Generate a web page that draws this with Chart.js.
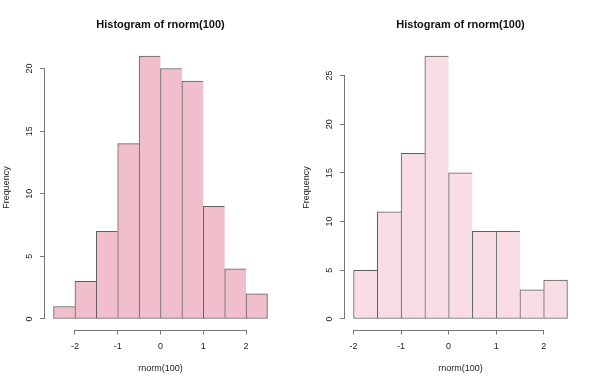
<!DOCTYPE html>
<html>
<head>
<meta charset="utf-8">
<script src="https://cdn.jsdelivr.net/npm/chart.js@4"></script>
<style>
  body { margin: 0; background: #fff; }
  .panel { position: absolute; top: 0; width: 300px; height: 386px; }
</style>
</head>
<body>
<div class="panel" style="left:0"><canvas id="left"></canvas></div>
<div class="panel" style="left:300px"><canvas id="right"></canvas></div>
<script>
// bin edges and counts
const leftBreaks = [-2.5, -2, -1.5, -1, -0.5, 0, 0.5, 1, 1.5, 2, 2.5];
const leftCounts = [1, 3, 7, 14, 21, 20, 19, 9, 4, 2];
const rightBreaks = [-2, -1.5, -1, -0.5, 0, 0.5, 1, 1.5, 2, 2.5];
const rightCounts = [5, 11, 17, 27, 15, 9, 9, 3, 4];
const xTicks = [-2, -1, 0, 1, 2];
const leftYTicks = [0, 5, 10, 15, 20];
const rightYTicks = [0, 5, 10, 15, 20, 25];

const FONT = 'Liberation Sans, Arial, Helvetica, sans-serif';

// R style axes: line only from first to last tick
const rAxes = {
  id: 'rAxes',
  afterDraw(chart) {
    const { ctx, chartArea, scales } = chart;
    const x = scales.x, y = scales.y;
    ctx.save();
    ctx.strokeStyle = '#777';
    ctx.lineWidth = 1;
    ctx.beginPath();
    const xb = Math.round(chartArea.bottom) + 0.5;
    ctx.moveTo(x.getPixelForValue(xTicks[0]), xb);
    ctx.lineTo(x.getPixelForValue(xTicks[xTicks.length - 1]), xb);
    const yl = Math.round(chartArea.left) - 0.5;
    const yt = y.ticks;
    ctx.moveTo(yl, y.getPixelForValue(yt[0].value));
    ctx.lineTo(yl, y.getPixelForValue(yt[yt.length - 1].value));
    ctx.stroke();
    ctx.restore();
  }
};

function makeHist(id, breaks, counts, yTicks, fill) {
  const lo = breaks[0], hi = breaks[breaks.length - 1];
  const ymax = Math.max(...counts);
  const points = counts.map((c, i) => ({ x: (breaks[i] + breaks[i + 1]) / 2, y: c }));
  const last = counts.length - 1;

  new Chart(document.getElementById(id), {
    type: 'bar',
    data: {
      datasets: [{
        data: points,
        backgroundColor: fill,
        borderColor: '#5e5e5e',
        borderWidth: ctx => ({ top: 1, bottom: 1, left: 1, right: ctx.dataIndex === last ? 1 : 0 }),
        borderSkipped: false,
        barPercentage: 1,
        categoryPercentage: 1
      }]
    },
    options: {
      responsive: true,
      maintainAspectRatio: false,
      animation: false,
      layout: { padding: { left: 0, right: 24, top: 0, bottom: 0 } },
      plugins: {
        legend: { display: false },
        tooltip: { enabled: false },
        title: {
          display: true,
          text: 'Histogram of rnorm(100)',
          fullSize: false,
          color: '#111',
          font: { family: FONT, size: 11, weight: 'bold' },
          padding: { top: 18, bottom: 14.3 }
        }
      },
      scales: {
        x: {
          type: 'linear',
          offset: false,
          min: lo - 0.04 * (hi - lo),
          max: hi + 0.04 * (hi - lo),
          afterBuildTicks: s => { s.ticks = xTicks.map(v => ({ value: v })); },
          afterFit: s => { s.height = 56.5; },
          border: { display: false },
          grid: { offset: false, drawOnChartArea: false, drawTicks: true, tickLength: 5, color: '#777' },
          ticks: {
            autoSkip: false, maxRotation: 0, padding: 7, color: '#222',
            font: { family: FONT, size: 9 }
          },
          title: {
            display: true, text: 'rnorm(100)', color: '#222',
            font: { family: FONT, size: 9 }, padding: { top: 0, bottom: 12 }
          }
        },
        y: {
          min: -0.04 * ymax,
          max: ymax * 1.04,
          afterBuildTicks: s => { s.ticks = yTicks.map(v => ({ value: v })); },
          afterFit: s => { s.width = 45; },
          border: { display: false },
          grid: { drawOnChartArea: false, drawTicks: true, tickLength: 5, color: '#777' },
          ticks: {
            autoSkip: false, minRotation: 90, maxRotation: 90, crossAlign: 'center',
            padding: 5, color: '#222', font: { family: FONT, size: 9 }
          },
          title: {
            display: true, text: 'Frequency', color: '#222',
            font: { family: FONT, size: 9 }, padding: { top: 1.3, bottom: 0 }
          }
        }
      }
    },
    plugins: [rAxes]
  });
}

makeHist('left', leftBreaks, leftCounts, leftYTicks, '#f0bfcb');
makeHist('right', rightBreaks, rightCounts, rightYTicks, '#f8dee4');
</script>
</body>
</html>
